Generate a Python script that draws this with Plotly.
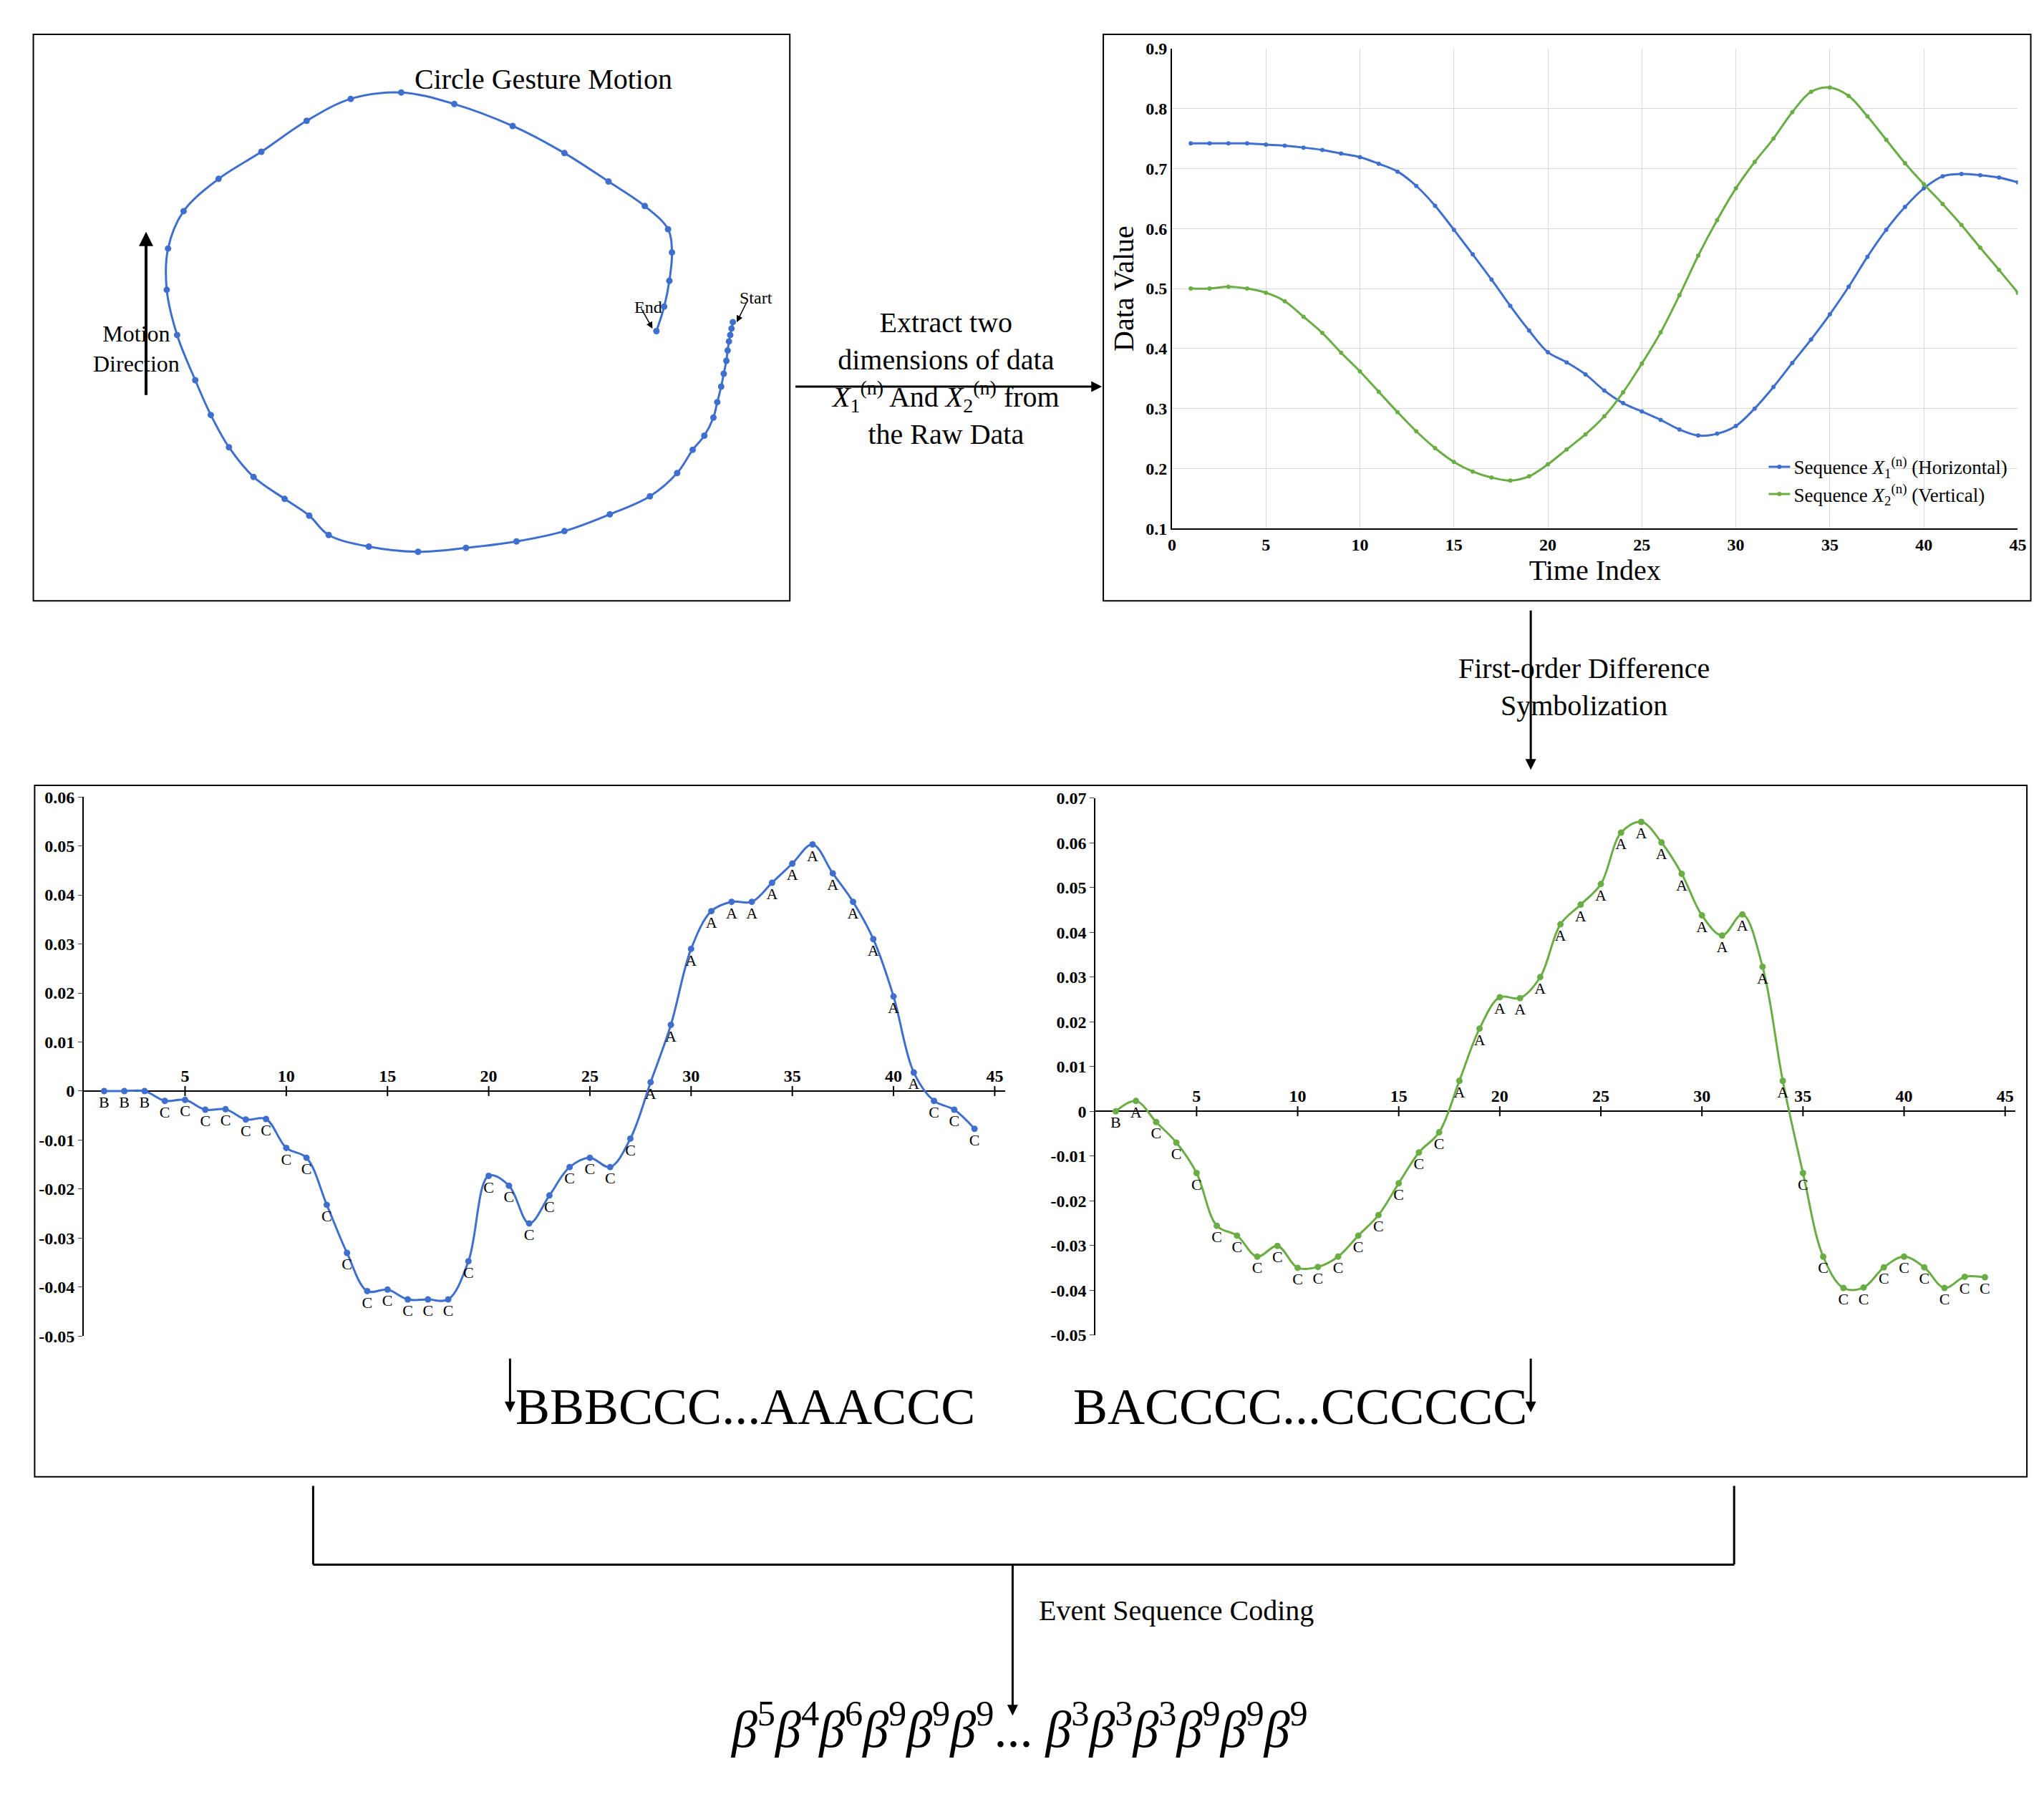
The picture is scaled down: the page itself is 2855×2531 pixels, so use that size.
import plotly.graph_objects as go

# ---------------- data ----------------
gesture_x = [558,557,556,555,554,553,551,549,546,543,536,527,515,494,463,428,391,352,315,277,246,231,212,188,169,155,143,129,121,122,134,161,194,229,263,302,343,388,428,462,490,508,511,509,505,499]
gesture_y = [238,243,248,253,260,268,278,288,300,312,326,337,355,373,387,400,408,413,416,412,403,388,375,358,335,310,283,248,213,181,152,127,106,82,65,60,69,86,107,129,148,166,184,206,226,245]

time_idx = list(range(1, 46))
x1_seq = [0.742,0.742,0.742,0.742,0.740,0.738,0.735,0.731,0.725,0.719,
          0.708,0.695,0.671,0.638,0.598,0.557,0.515,0.471,0.430,0.394,
          0.377,0.357,0.330,0.309,0.295,0.281,0.265,0.255,0.258,0.271,
          0.300,0.336,0.376,0.415,0.457,0.503,0.553,0.598,0.636,0.667,
          0.687,0.691,0.689,0.685,0.677]
x2_seq = [0.500,0.500,0.503,0.500,0.493,0.479,0.453,0.426,0.393,0.362,
          0.328,0.294,0.262,0.234,0.211,0.195,0.185,0.180,0.187,0.207,
          0.232,0.257,0.287,0.327,0.375,0.427,0.489,0.555,0.614,0.667,
          0.711,0.750,0.794,0.828,0.835,0.821,0.787,0.748,0.709,0.674,
          0.641,0.606,0.568,0.531,0.493]

diff_idx = list(range(1, 45))
d1 = [0,0,0,-0.002,-0.0018,-0.0038,-0.0037,-0.0058,-0.0057,-0.0116,
      -0.0136,-0.0232,-0.033,-0.0408,-0.0405,-0.0425,-0.0425,-0.0425,-0.0347,-0.0173,
      -0.0193,-0.027,-0.0213,-0.0155,-0.0136,-0.0155,-0.0097,0.0018,0.0135,0.029,
      0.0367,0.0386,0.0386,0.0425,0.0464,0.0503,0.0444,0.0386,0.031,0.0193,
      0.0038,-0.002,-0.0038,-0.0077]
d2 = [0,0.0023,-0.0024,-0.007,-0.0138,-0.0256,-0.0278,-0.0325,-0.0301,-0.035,
      -0.0348,-0.0325,-0.0278,-0.0232,-0.0161,-0.0092,-0.0047,0.0068,0.0185,0.0255,
      0.0253,0.0300,0.0418,0.0462,0.0508,0.0623,0.0647,0.0601,0.0531,0.0438,
      0.0393,0.0440,0.0323,0.0068,-0.0138,-0.0325,-0.0395,-0.0394,-0.0349,-0.0325,
      -0.0349,-0.0395,-0.0370,-0.0371]
sym1 = ["B" if v == 0 else ("A" if v > 0 else "C") for v in d1]
sym2 = ["B" if v == 0 else ("A" if v > 0 else "C") for v in d2]
xticks_bottom = [5,10,15,20,25,30,35,40,45]

BLUE = "#3f6fce"
GREEN = "#6aad45"
FONT = "Liberation Serif"

W, H = 1568, 1390  # design grid
S = 2855 / W
def px(x): return x / W
def py(y): return 1 - y / H

fig = go.Figure()

fig.add_trace(go.Scatter(x=gesture_x, y=gesture_y, mode="lines+markers", line=dict(color=BLUE, width=3, shape="spline"),
                         marker=dict(size=9, color=BLUE), xaxis="x", yaxis="y", showlegend=False))
fig.add_trace(go.Scatter(x=time_idx, y=x1_seq, mode="lines+markers", line=dict(color=BLUE, width=3, shape="spline"),
                         marker=dict(size=6, color=BLUE), xaxis="x2", yaxis="y2",
                         name="Sequence <i>X</i><sub>1</sub><sup>(n)</sup> (Horizontal)"))
fig.add_trace(go.Scatter(x=time_idx, y=x2_seq, mode="lines+markers", line=dict(color=GREEN, width=3, shape="spline"),
                         marker=dict(size=6, color=GREEN), xaxis="x2", yaxis="y2",
                         name="Sequence <i>X</i><sub>2</sub><sup>(n)</sup> (Vertical)"))
fig.add_trace(go.Scatter(x=diff_idx, y=d1, mode="lines+markers+text", text=sym1, textposition="bottom center",
                         textfont=dict(family=FONT, size=22, color="black"),
                         line=dict(color=BLUE, width=3, shape="spline"), marker=dict(size=9, color=BLUE),
                         xaxis="x3", yaxis="y3", showlegend=False))
fig.add_trace(go.Scatter(x=diff_idx, y=d2, mode="lines+markers+text", text=sym2, textposition="bottom center",
                         textfont=dict(family=FONT, size=22, color="black"),
                         line=dict(color=GREEN, width=3, shape="spline"), marker=dict(size=9, color=GREEN),
                         xaxis="x4", yaxis="y4", showlegend=False))
for xa, ya in (("x3", "y3"), ("x4", "y4")):
    fig.add_trace(go.Scatter(x=xticks_bottom, y=[0]*len(xticks_bottom), mode="markers+text",
                             marker=dict(symbol="line-ns", size=10, line=dict(width=2, color="black")),
                             text=[str(t) for t in xticks_bottom], textposition="top center",
                             textfont=dict(family=FONT, size=24, color="black", weight="bold"),
                             xaxis=xa, yaxis=ya, showlegend=False, hoverinfo="skip"))

tickfont = dict(family=FONT, size=24, color="black", weight="bold")
fig.update_layout(
    width=2855, height=2531, margin=dict(l=0, r=0, t=0, b=0),
    paper_bgcolor="white", plot_bgcolor="rgba(0,0,0,0)",
    font=dict(family=FONT, color="black"),
    xaxis=dict(domain=[px(18), px(602)], range=[18, 602], visible=False),
    yaxis=dict(domain=[py(454), py(15)], range=[454, 15], visible=False),
    xaxis2=dict(domain=[px(897), px(1550)], range=[0, 45], anchor="y2", tickvals=[0,5,10,15,20,25,30,35,40,45],
                showgrid=True, gridcolor="#d9d9d9", showline=True, linecolor="black", linewidth=2,
                zeroline=False, tickfont=tickfont,
                title=dict(text="Time Index", font=dict(family=FONT, size=40), standoff=8)),
    yaxis2=dict(domain=[py(398), py(26)], range=[0.1, 0.9], anchor="x2", tickvals=[0.1,0.2,0.3,0.4,0.5,0.6,0.7,0.8,0.9],
                showgrid=True, gridcolor="#d9d9d9", showline=True, linecolor="black", linewidth=2,
                zeroline=False, tickfont=tickfont,
                title=dict(text="Data Value", font=dict(family=FONT, size=40), standoff=4)),
    xaxis3=dict(domain=[px(57), px(768)], range=[0, 45.5], anchor="y3", visible=False),
    yaxis3=dict(domain=[py(1024), py(606)], range=[-0.05, 0.06], anchor="x3", tickvals=[-0.05,-0.04,-0.03,-0.02,-0.01,0,0.01,0.02,0.03,0.04,0.05,0.06],
                ticktext=["-0.05","-0.04","-0.03","-0.02","-0.01","0","0.01","0.02","0.03","0.04","0.05","0.06"],
                showgrid=False, showline=True, linecolor="black", linewidth=2, ticks="outside", ticklen=6,
                zeroline=True, zerolinecolor="black", zerolinewidth=2, tickfont=tickfont),
    xaxis4=dict(domain=[px(838), px(1548)], range=[0, 45.5], anchor="y4", visible=False),
    yaxis4=dict(domain=[py(1023), py(607)], range=[-0.05, 0.07], anchor="x4", tickvals=[-0.05,-0.04,-0.03,-0.02,-0.01,0,0.01,0.02,0.03,0.04,0.05,0.06,0.07],
                ticktext=["-0.05","-0.04","-0.03","-0.02","-0.01","0","0.01","0.02","0.03","0.04","0.05","0.06","0.07"],
                showgrid=False, showline=True, linecolor="black", linewidth=2, ticks="outside", ticklen=6,
                zeroline=True, zerolinecolor="black", zerolinewidth=2, tickfont=tickfont),
    legend=dict(x=px(1545), y=py(385), xanchor="right", yanchor="bottom", bgcolor="rgba(255,255,255,0)",
                font=dict(family=FONT, size=27), tracegroupgap=0),
)

shapes = []
def rect(x0, y0, x1, y1):
    shapes.append(dict(type="rect", xref="paper", yref="paper", x0=px(x0), x1=px(x1), y0=py(y1), y1=py(y0),
                       line=dict(color="black", width=2)))
def line(x0, y0, x1, y1):
    shapes.append(dict(type="line", xref="paper", yref="paper", x0=px(x0), x1=px(x1), y0=py(y0), y1=py(y1),
                       line=dict(color="black", width=3)))
rect(18, 15, 602, 454)
rect(844, 15, 1560, 454)
rect(19, 597, 1557, 1133)
line(234, 1140, 234, 1201)
line(234, 1201, 1331, 1201)
line(1331, 1140, 1331, 1201)
fig.update_layout(shapes=shapes)

ann = []
def text(x, y, s, size=40, **kw):
    ann.append(dict(x=px(x), y=py(y), xref="paper", yref="paper", text=s, showarrow=False,
                    font=dict(family=FONT, size=size, color="black"), **kw))
def arrow(x0, y0, x1, y1, w=3, size=1.0):
    ann.append(dict(x=px(x1), y=py(y1), ax=(x0 - x1) * S, ay=(y0 - y1) * S, xref="paper", yref="paper",
                    axref="pixel", ayref="pixel",
                    text="", showarrow=True, arrowhead=2, arrowwidth=w, arrowsize=size, arrowcolor="black"))

text(311, 36, "Circle Gesture Motion", 40)
text(63, 236, "Motion<br>Direction", 32)
arrow(105, 294, 105, 168, 4)
text(481, 218, "End", 24)
arrow(487, 227, 496, 243, 1.5, 1.2)
text(576, 211, "Start", 24)
arrow(569, 222, 561, 238, 1.5, 1.2)

text(722, 225, "Extract two<br>dimensions of data<br><i>X</i><sub>1</sub><sup>(n)</sup> And <i>X</i><sub>2</sub><sup>(n)</sup> from<br>the Raw Data", 40)
arrow(607, 288, 843, 288, 3)
text(1313, 521, "First-order Difference<br>Symbolization", 40)
arrow(1174, 462, 1174, 585, 3)
arrow(386, 1041, 386, 1083, 3)
arrow(1174, 1041, 1174, 1083, 3)
text(389, 1102, "BBBCCC...AAACCC", 72)
text(1172, 1102, "BACCCC...CCCCCC", 72)
arrow(774, 1201, 774, 1318, 3)
text(793, 1250, "Event Sequence Coding", 40, xanchor="left")
b = "<i>β</i>"
text(779, 1352, "".join(f"{b}<sup>{n}</sup>" for n in [5,4,6,9,9,9]) + "... " + "".join(f"{b}<sup>{n}</sup>" for n in [3,3,3,9,9,9]), 72)
fig.update_layout(annotations=ann)

fig.write_html("out.html")
